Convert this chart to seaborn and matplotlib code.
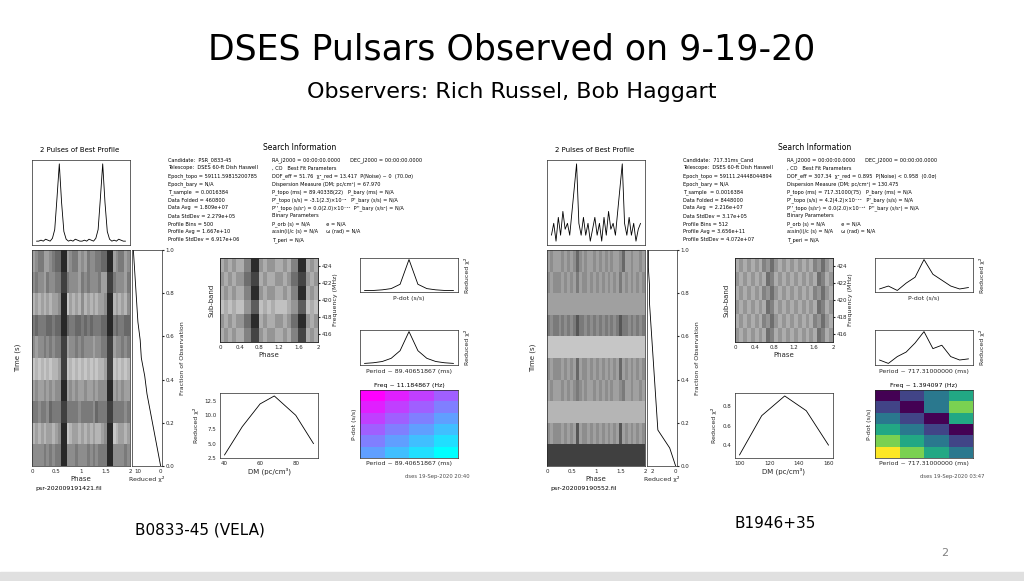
import numpy as np
import matplotlib.pyplot as plt
import seaborn as sns

sns.set_style("white")
plt.rcParams['font.family'] = ['DejaVu Sans']
plt.rcParams['text.color'] = 'black'

W, H = 1024, 581

# ---- data ----
title = "DSES Pulsars Observed on 9-19-20"
subtitle = "Observers: Rich Russel, Bob Haggart"
names = ["B0833-45 (VELA)", "B1946+35"]
files = ["psr-202009191421.fil", "psr-202009190552.fil"]
stamps = ["dses 19-Sep-2020 20:40", "dses 19-Sep-2020 03:47"]

vela_profile = [1, 1, 1.1, 1, 1.2, 1.1, 1, 1.3, 2.2, 5.5, 9, 5, 2, 1.2, 1, 1.1, 1, 1.2, 1.1, 1,
                1, 1.1, 1, 1.2, 1.1, 1, 1.3, 2.2, 5.5, 9, 5, 2, 1.2, 1, 1.1, 1, 1.2, 1.1, 1, 1]
b1946_profile = [3, 4, 2.5, 4.5, 3, 5, 3.5, 4, 3, 5, 7, 9, 4, 3, 4.5, 3, 4, 2.5, 3.5, 4.5,
                 3, 4, 2.5, 4.5, 3, 5, 3.5, 4, 3, 5, 7, 9, 4, 3, 4.5, 3, 4, 2.5, 3.5, 4]

vela_time = ["3455334566993455343544556699345534",
             "4544354455885444354544453388544435",
             "2323232334991323242323233499232324",
             "5655566566996556656565556699565566",
             "4344545455883445454443445588344545",
             "1212121223881212121212122388121212",
             "3433434344993434334334344499343433",
             "5545546555885555455554655588555545",
             "2323233234991233232323223499123323",
             "4444545455994445444545455599444454"]
b1946_time = ["3433343434643433434343433463343343",
              "4344434343534434343434343534343434",
              "3333333333333333333333333333333333",
              "5455454545755454545454545755454545",
              "1111111111111111111111111111111111",
              "4344434343634434343434343634343434",
              "3433343434543433434343433453343343",
              "2222222222222222222222222222222222",
              "4344434343734434343434343734343434",
              "8888888888888888888888888888888888"]
vela_sub = ["3434335599434433435599343",
            "4343446688343344346688434",
            "3434335599434433435599343",
            "2323224477232322234477232",
            "4343446699343344346699434",
            "3434335588434433435588343"]
b1946_sub = ["3434343546434343434354643",
             "4343434365343434343436534",
             "3434343546434343434354643",
             "4343434365343434343436534",
             "3434343546434343434354643",
             "4343434365343434343436534"]
vela_chi = [0, 1.5, 3, 4.5, 6, 7, 8.5, 9, 10, 10.5, 11, 11.5, 12]
b1946_chi = [0, 0.5, 1.5, 1.6, 1.7, 1.8, 1.9, 2, 2.1, 2.2, 2.2, 2.3, 2.3]
vela_dm = [40, 50, 60, 67.97, 80, 90]
vela_dmchi = [3, 8, 12, 13.4, 10, 5]
b1946_dm = [100, 115, 130.475, 145, 160]
b1946_dmchi = [0.3, 0.7, 0.9, 0.75, 0.4]
pdot_curve = [1, 1, 1.1, 1.3, 2, 6, 2, 1.3, 1.1, 1, 1]
per_curve = [1, 1.1, 1.3, 1.8, 3, 6, 3, 1.8, 1.3, 1.1, 1]
b1946_pdot = [1, 1.2, 0.9, 1.4, 1.8, 3, 2, 1.6, 1.2, 1, 1.1]
b1946_per = [1.5, 1.2, 1.8, 2.2, 3, 4, 2.5, 2.8, 1.8, 1.5, 1.6]
vela_pp = ["99887766", "88776655", "77665544", "66554433", "55443322", "44332211"]
b1946_pp = ["22334455", "33224466", "44332255", "55443322", "66554433", "77665544"]

texts = [
    ["Candidate:  PSR_0833-45", "Telescope:  DSES 60-ft Dish Haswell",
     "Epoch_topo = 59111.59815200785", "Epoch_bary = N/A", "T_sample  = 0.0016384",
     "Data Folded = 460800", "Data Avg  = 1.809e+07", "Data StdDev = 2.279e+05",
     "Profile Bins = 500", "Profile Avg = 1.667e+10", "Profile StdDev = 6.917e+06"],
    ["Candidate:  717.31ms_Cand", "Telescope:  DSES 60-ft Dish Haswell",
     "Epoch_topo = 59111.24448044894", "Epoch_bary = N/A", "T_sample  = 0.0016384",
     "Data Folded = 8448000", "Data Avg  = 2.216e+07", "Data StdDev = 3.17e+05",
     "Profile Bins = 512", "Profile Avg = 3.656e+11", "Profile StdDev = 4.072e+07"]]
texts2 = [
    ["RA_J2000 = 00:00:00.0000      DEC_J2000 = 00:00:00.0000", ", CO   Best Fit Parameters",
     "DOF_eff = 51.76  χ²_red = 13.417  P(Noise) ~ 0  (70.0σ)",
     "Dispersion Measure (DM; pc/cm³) = 67.970", "P_topo (ms) = 89.40338(22)   P_bary (ms) = N/A",
     "P'_topo (s/s) = -3.1(2.3)×10⁻⁹   P'_bary (s/s) = N/A",
     "P''_topo (s/s²) = 0.0(2.0)×10⁻¹¹  P''_bary (s/s²) = N/A", "Binary Parameters",
     "P_orb (s) = N/A          e = N/A", "a₁sin(i)/c (s) = N/A     ω (rad) = N/A", "T_peri = N/A"],
    ["RA_J2000 = 00:00:00.0000      DEC_J2000 = 00:00:00.0000", ", CO   Best Fit Parameters",
     "DOF_eff = 307.34  χ²_red = 0.895  P(Noise) < 0.958  (0.0σ)",
     "Dispersion Measure (DM; pc/cm³) = 130.475", "P_topo (ms) = 717.31000(75)   P_bary (ms) = N/A",
     "P'_topo (s/s) = 4.2(4.2)×10⁻¹⁰   P'_bary (s/s) = N/A",
     "P''_topo (s/s²) = 0.0(2.0)×10⁻¹³  P''_bary (s/s²) = N/A", "Binary Parameters",
     "P_orb (s) = N/A          e = N/A", "a₁sin(i)/c (s) = N/A     ω (rad) = N/A", "T_peri = N/A"]]
freq_lbl = ["Freq ~ 11.184867 (Hz)", "Freq ~ 1.394097 (Hz)"]
per_lbl = ["Period ~ 89.40651867 (ms)", "Period ~ 717.31000000 (ms)"]

fig = plt.figure(figsize=(W / 100, H / 100), dpi=100)


def ax_px(x0, y0, x1, y1):
    return fig.add_axes([x0 / W, 1 - y1 / H, (x1 - x0) / W, (y1 - y0) / H])


def grid(rows):
    return np.array([[int(c) for c in r] for r in rows], dtype=float)


def small(ax, fs=4):
    ax.tick_params(labelsize=fs, length=1.5, pad=1, labelrotation=0)
    for s in ax.spines.values():
        s.set_visible(True)
        s.set_linewidth(0.5)


fig.text(0.5, 1 - 50 / H, title, ha="center", va="center", fontsize=25)
fig.text(0.5, 1 - 92 / H, subtitle, ha="center", va="center", fontsize=16)

panels = [
    dict(dx=0, prof=vela_profile, time=vela_time, sub=vela_sub, chi=vela_chi,
         dm=vela_dm, dmchi=vela_dmchi, pd=pdot_curve, per=per_curve, pp=vela_pp,
         cmap_pp="cool"),
    dict(dx=515, prof=b1946_profile, time=b1946_time, sub=b1946_sub, chi=b1946_chi,
         dm=b1946_dm, dmchi=b1946_dmchi, pd=b1946_pdot, per=b1946_per, pp=b1946_pp,
         cmap_pp="viridis"),
]

for i, p in enumerate(panels):
    dx = p["dx"]
    fig.text((dx + 40) / W, 1 - 152 / H, "2 Pulses of Best Profile", fontsize=5)
    fig.text((dx + 300) / W, 1 - 150 / H, "Search Information", fontsize=5.5, ha="center")
    for k, t in enumerate(texts[i]):
        fig.text((dx + 168) / W, 1 - (160 + k * 8) / H, t, fontsize=3.6, va="center")
    for k, t in enumerate(texts2[i]):
        fig.text((dx + 272) / W, 1 - (160 + k * 8) / H, t, fontsize=3.6, va="center")

    ax = ax_px(dx + 32, 160, dx + 130, 245)
    sns.lineplot(x=np.arange(len(p["prof"])), y=p["prof"], ax=ax, color="k", lw=0.6)
    ax.set_xticks([]); ax.set_yticks([]); small(ax)

    ax = ax_px(dx + 32, 250, dx + 130, 466)
    sns.heatmap(grid(p["time"]), ax=ax, cmap="Greys", cbar=False, vmin=-4, vmax=11)
    ax.set_xticks(np.linspace(0, 34, 5)); ax.set_xticklabels(["0", "0.5", "1", "1.5", "2"])
    ax.set_yticks([]); ax.set_xlabel("Phase", fontsize=5, labelpad=1)
    ax.set_ylabel("Time (s)", fontsize=5, labelpad=8); small(ax)
    fig.text((dx + 35) / W, 1 - 490 / H, files[i], fontsize=4.5)

    ax = ax_px(dx + 132, 250, dx + 162, 466)
    sns.lineplot(x=p["chi"], y=np.linspace(0, 1, len(p["chi"])), ax=ax, color="k",
                 lw=0.6, sort=False, orient="y")
    ax.invert_xaxis(); ax.set_ylim(0, 1); ax.yaxis.tick_right()
    ax.set_xlabel("Reduced χ²", fontsize=4.5, labelpad=1); small(ax)
    ax.set_ylabel("Fraction of Observation", fontsize=4.5); ax.yaxis.set_label_position("right")

    ax = ax_px(dx + 220, 258, dx + 318, 342)
    sns.heatmap(grid(p["sub"]), ax=ax, cmap="Greys", cbar=False, vmin=-3, vmax=11)
    ax.set_xticks(np.linspace(0, 25, 6)); ax.set_xticklabels(["0", "0.4", "0.8", "1.2", "1.6", "2"])
    ax.set_yticks([]); ax.set_xlabel("Phase", fontsize=5, labelpad=1)
    ax.set_ylabel("Sub-band", fontsize=5); small(ax)
    ax2 = ax.twinx(); ax2.set_ylim(415, 425); small(ax2)
    ax2.set_ylabel("Frequency (MHz)", fontsize=4.5, labelpad=1)

    ax = ax_px(dx + 220, 393, dx + 318, 458)
    sns.lineplot(x=p["dm"], y=p["dmchi"], ax=ax, color="k", lw=0.6)
    ax.set_xlabel("DM (pc/cm³)", fontsize=5, labelpad=1)
    ax.set_ylabel("Reduced χ²", fontsize=4.5); small(ax)

    for (y0, y1, curve, lbl) in [(258, 292, p["pd"], "P-dot (s/s)"),
                                 (330, 365, p["per"], per_lbl[i])]:
        ax = ax_px(dx + 360, y0, dx + 458, y1)
        sns.lineplot(x=np.arange(len(curve)), y=curve, ax=ax, color="k", lw=0.6)
        ax.set_xticks([]); ax.set_yticks([])
        ax.set_xlabel(lbl, fontsize=4.5, labelpad=3); small(ax)
        ax.yaxis.set_label_position("right"); ax.set_ylabel("Reduced χ²", fontsize=4.5)

    ax = ax_px(dx + 360, 390, dx + 458, 458)
    sns.heatmap(grid(p["pp"]), ax=ax, cmap=p["cmap_pp"], cbar=False)
    ax.set_xticks([]); ax.set_yticks([]); small(ax)
    ax.set_xlabel(per_lbl[i], fontsize=4.5, labelpad=2)
    ax.set_ylabel("P-dot (s/s)", fontsize=4.5, labelpad=2)
    ax.set_title(freq_lbl[i], fontsize=4.5, pad=2)
    fig.text((dx + 470) / W, 1 - 478 / H, stamps[i], fontsize=3.8, ha="right", color="0.3")

fig.text(200 / W, 1 - 530 / H, names[0], fontsize=11, ha="center", va="center")
fig.text(775 / W, 1 - 523 / H, names[1], fontsize=11, ha="center", va="center")
fig.text(945 / W, 1 - 553 / H, "2", fontsize=8, color="0.5", ha="center", va="center")
fig.add_artist(plt.Rectangle((0, 0), 1, 9 / H, transform=fig.transFigure, color="0.88"))

fig.savefig("out.png", dpi=100)
